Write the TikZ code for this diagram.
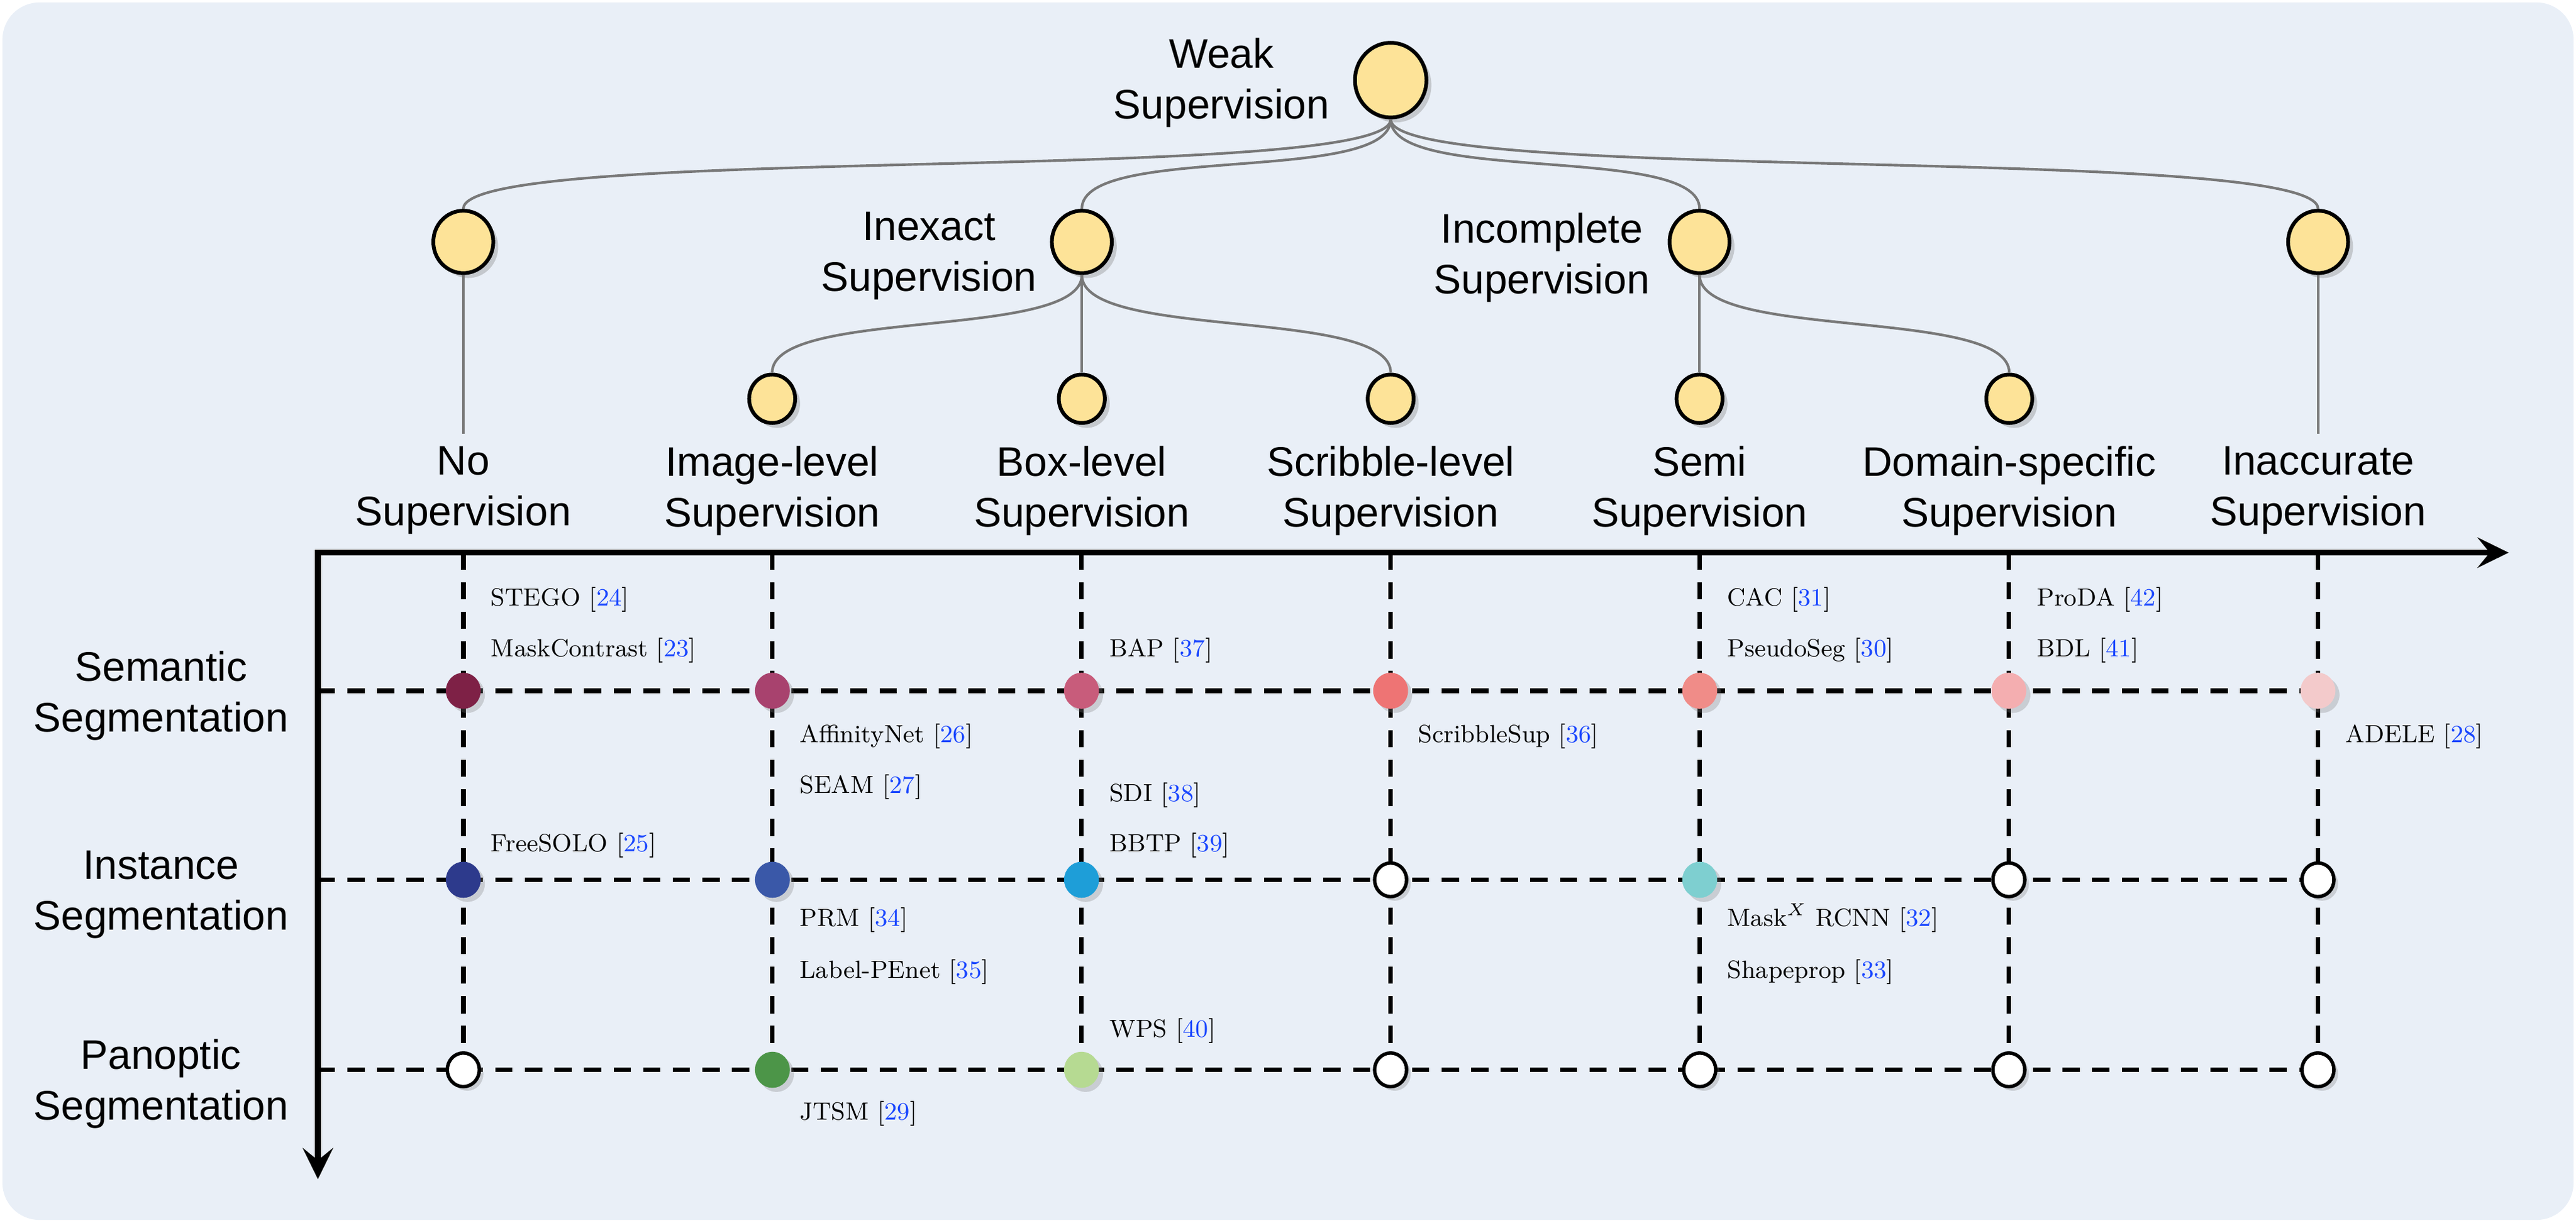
\documentclass[tikz,border=0pt]{standalone}
\usepackage{fontspec}
\newfontfamily\treefont{Liberation Sans}
\usetikzlibrary{arrows.meta,shapes,shadows,positioning}

\definecolor{bgblue}{RGB}{233,239,247}
\definecolor{nodeyellow}{RGB}{253,227,152}
\definecolor{citeblue}{RGB}{25,70,255}
\definecolor{edgegray}{RGB}{120,120,120}
\definecolor{semA}{RGB}{126,33,70}
\definecolor{semB}{RGB}{168,66,110}
\definecolor{semC}{RGB}{200,92,123}
\definecolor{semD}{RGB}{238,116,116}
\definecolor{semE}{RGB}{240,140,136}
\definecolor{semF}{RGB}{244,174,176}
\definecolor{semG}{RGB}{243,202,203}
\definecolor{insA}{RGB}{45,58,140}
\definecolor{insB}{RGB}{58,88,168}
\definecolor{insC}{RGB}{30,158,216}
\definecolor{insE}{RGB}{126,207,208}
\definecolor{panB}{RGB}{76,149,72}
\definecolor{panC}{RGB}{182,218,146}

\newcommand{\bref}[1]{[\textcolor{citeblue}{#1}]}

\tikzset{
  treenode/.style={ellipse, draw=black, line width=1.3pt, fill=nodeyellow, inner sep=0pt,
    drop shadow={shadow xshift=0.06cm, shadow yshift=-0.06cm, opacity=0.35}},
  bignode/.style={treenode, minimum width=0.87cm, minimum height=0.91cm},
  midnode/.style={treenode, minimum width=0.73cm, minimum height=0.76cm},
  smallnode/.style={treenode, minimum width=0.56cm, minimum height=0.59cm},
  treelabel/.style={font=\treefont\fontsize{14.3}{17.6}\selectfont, align=center, inner sep=0pt},
  leaflabel/.style={treelabel, anchor=north, inner sep=0.14cm},
  treeedge/.style={edgegray, line width=0.9pt, out=-90, in=90, distance=0.8cm},
  gridline/.style={line width=1.6pt, dash pattern=on 0.21cm off 0.15cm},
  axis/.style={line width=2pt,
    {Stealth[length=0.38cm,width=0.37cm,inset=0.15cm]}-{Stealth[length=0.38cm,width=0.37cm,inset=0.15cm]}},
  dot/.style={ellipse, minimum width=0.425cm, minimum height=0.44cm, inner sep=0pt,
    drop shadow={shadow xshift=0.05cm, shadow yshift=-0.05cm, opacity=0.3}},
  emptydot/.style={dot, draw=black, line width=1.2pt, fill=white,
    minimum width=0.39cm, minimum height=0.41cm},
  method/.style={font=\fontsize{8.6}{10}\selectfont, anchor=base west, inner sep=0pt},
}

\begin{document}
\begin{tikzpicture}
    \useasboundingbox (0,0) rectangle (31.36,14.886);
    \fill[white] (0,0) rectangle (31.36,14.886);
    \fill[bgblue, rounded corners=0.45cm] (0.03,0.03) rectangle (31.33,14.856);

    % tree
    \node[bignode] (weak) at (16.93,13.91) {};
    \node[midnode] (nosup) at (5.64,11.94) {};
    \node[midnode] (inexact) at (13.17,11.94) {};
    \node[midnode] (incomplete) at (20.69,11.94) {};
    \node[midnode] (inaccurate) at (28.22,11.94) {};
    \node[smallnode] (imagelevel) at (9.40,10.03) {};
    \node[smallnode] (boxlevel) at (13.17,10.03) {};
    \node[smallnode] (scribble) at (16.93,10.03) {};
    \node[smallnode] (semi) at (20.69,10.03) {};
    \node[smallnode] (domain) at (24.46,10.03) {};

    \node[treelabel, anchor=east] (weaklab) at (16.19,13.88) {Weak\\Supervision};
    \node[treelabel, anchor=east] (inexactlab) at (12.63,11.77) {Inexact\\Supervision};
    \node[treelabel, anchor=east] (incompletelab) at (20.09,11.75) {Incomplete\\Supervision};

    \node[leaflabel] (nolab) at (5.64,9.6) {No\\Supervision};
    \node[leaflabel] (imagelab) at (9.40,9.6) {Image-level\\Supervision};
    \node[leaflabel] (boxlab) at (13.17,9.6) {Box-level\\Supervision};
    \node[leaflabel] (scribblelab) at (16.93,9.6) {Scribble-level\\Supervision};
    \node[leaflabel] (semilab) at (20.69,9.6) {Semi\\Supervision};
    \node[leaflabel] (domainlab) at (24.46,9.6) {Domain-specific\\Supervision};
    \node[leaflabel] (inaccuratelab) at (28.22,9.6) {Inaccurate\\Supervision};

    \foreach \child in {nosup,inexact,incomplete,inaccurate}
        \draw[treeedge] (weak.south) to (\child.north);
    \draw[treeedge] (inexact.south) to (imagelevel.north);
    \draw[treeedge] (inexact.south) to (scribble.north);
    \draw[treeedge] (incomplete.south) to (domain.north);
    \draw[edgegray, line width=0.8pt] (inexact.south) -- (boxlevel.north);
    \draw[edgegray, line width=0.8pt] (incomplete.south) -- (semi.north);
    \draw[edgegray, line width=0.8pt] (nosup.south) -- (nolab.north);
    \draw[edgegray, line width=0.8pt] (inaccurate.south) -- (inaccuratelab.north);

    % grid
    \coordinate (origin) at (3.87,8.156);
    \coordinate (xtip) at (30.54,8.156);
    \coordinate (ytip) at (3.87,0.526);
    \coordinate (sL) at (3.87,6.474);
    \coordinate (nL) at (3.87,4.172);
    \coordinate (pL) at (3.87,1.858);
    \foreach \i in {1,...,7}{
        \pgfmathsetmacro{\cx}{5.64+3.763*(\i-1)}
        \coordinate (top\i) at (\cx,8.156);
        \coordinate (s\i) at (\cx,6.474);
        \coordinate (n\i) at (\cx,4.172);
        \coordinate (p\i) at (\cx,1.858);
    }
    \draw[gridline] (sL) -- (s7);
    \draw[gridline] (nL) -- (n7);
    \draw[gridline] (pL) -- (p7);
    \foreach \i in {1,...,7}
        \draw[gridline] (top\i) -- (p\i);
    \draw[axis] (ytip) -- (origin) -- (xtip);

    \node[treelabel] (semantic) at (1.96,6.41) {Semantic\\Segmentation};
    \node[treelabel] (instance) at (1.96,3.99) {Instance\\Segmentation};
    \node[treelabel] (panoptic) at (1.96,1.69) {Panoptic\\Segmentation};

    \foreach \pos/\col in {s1/semA,s2/semB,s3/semC,s4/semD,s5/semE,s6/semF,s7/semG,
                           n1/insA,n2/insB,n3/insC,n5/insE,p2/panB,p3/panC}
        \node[dot, fill=\col] (dot\pos) at (\pos) {};
    \foreach \pos in {n4,n6,n7,p1,p4,p5,p6,p7}
        \node[emptydot] (dot\pos) at (\pos) {};

    % methods
    \node[method] at (5.97,7.506) {STEGO \bref{24}};
    \node[method] at (5.97,6.886) {MaskContrast \bref{23}};
    \node[method] at (5.97,4.516) {FreeSOLO \bref{25}};
    \node[method] at (9.73,5.846) {AffinityNet \bref{26}};
    \node[method] at (9.73,5.226) {SEAM \bref{27}};
    \node[method] at (9.73,3.606) {PRM \bref{34}};
    \node[method] at (9.73,2.976) {Label-PEnet \bref{35}};
    \node[method] at (9.73,1.246) {JTSM \bref{29}};
    \node[method] at (13.50,6.886) {BAP \bref{37}};
    \node[method] at (13.50,5.126) {SDI \bref{38}};
    \node[method] at (13.50,4.516) {BBTP \bref{39}};
    \node[method] at (13.50,2.256) {WPS \bref{40}};
    \node[method] at (17.26,5.846) {ScribbleSup \bref{36}};
    \node[method] at (21.02,7.506) {CAC \bref{31}};
    \node[method] at (21.02,6.886) {PseudoSeg \bref{30}};
    \node[method] at (21.02,3.606) {Mask$^{X}$~RCNN \bref{32}};
    \node[method] at (21.02,2.976) {Shapeprop \bref{33}};
    \node[method] at (24.79,7.506) {ProDA \bref{42}};
    \node[method] at (24.79,6.886) {BDL \bref{41}};
    \node[method] at (28.55,5.846) {ADELE \bref{28}};
\end{tikzpicture}
\end{document}
